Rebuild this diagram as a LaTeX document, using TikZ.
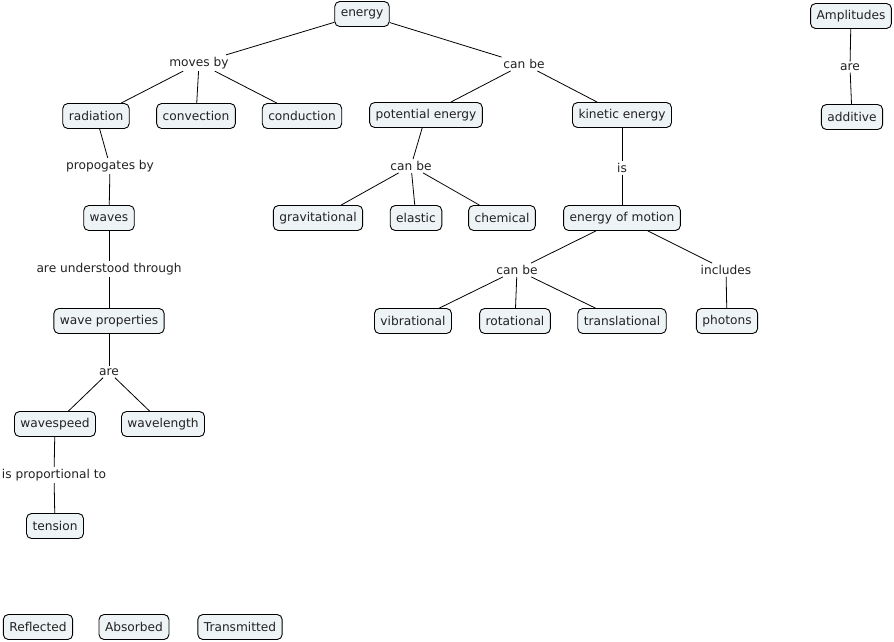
\documentclass[tikz,border=0pt]{standalone}
\usepackage{fontspec}
\setmainfont{DejaVu Sans}
\definecolor{boxfill}{HTML}{EEF3F5}
\definecolor{txt}{HTML}{222222}
\begin{document}
\begin{tikzpicture}[x=1pt,y=-1pt,
  concept/.style={draw=black,fill=boxfill,rounded corners=5pt,line width=0.9pt,
    font=\fontsize{12.2}{14}\selectfont,text=txt,inner xsep=6pt,minimum height=25pt,inner ysep=0pt},
  lab/.style={font=\fontsize{12.2}{14}\selectfont,text=txt,inner sep=2pt,fill=white},
  link/.style={draw=black,line width=0.8pt}]
\useasboundingbox[fill=white] (0,0) rectangle (894,641);
% concepts
\node[concept] (energy) at (362,14) {energy};
\node[concept] (ampl) at (851,16) {Amplitudes};
\node[concept] (additive) at (852,117) {additive};
\node[concept] (radiation) at (96,116) {radiation};
\node[concept] (convection) at (196,116) {convection};
\node[concept] (conduction) at (302,116) {conduction};
\node[concept] (potential) at (426,115) {potential energy};
\node[concept] (kinetic) at (622,115) {kinetic energy};
\node[concept] (waves) at (109,218) {waves};
\node[concept] (grav) at (318,218) {gravitational};
\node[concept] (elastic) at (416,218) {elastic};
\node[concept] (chemical) at (502,218) {chemical};
\node[concept] (motion) at (622,218) {energy of motion};
\node[concept] (waveprop) at (109,321) {wave properties};
\node[concept] (vib) at (413,321) {vibrational};
\node[concept] (rot) at (515,321) {rotational};
\node[concept] (trans) at (622,321) {translational};
\node[concept] (photons) at (727,321) {photons};
\node[concept] (wavespeed) at (55,424) {wavespeed};
\node[concept] (wavelength) at (163,424) {wavelength};
\node[concept] (tension) at (55,526) {tension};
\node[concept] (refl) at (38,627) {Reflected};
\node[concept] (abs) at (134,627) {Absorbed};
\node[concept] (transm) at (240,627) {Transmitted};
% linking phrases
\node[lab] (movesby) at (199,63) {moves by};
\node[lab] (canbeA) at (524,64) {can be};
\node[lab] (areA) at (850,67) {are};
\node[lab] (propby) at (110,166) {propogates by};
\node[lab] (canbeB) at (411,166) {can be};
\node[lab] (is) at (622,168) {is};
\node[lab] (understood) at (109,269) {are understood through};
\node[lab] (canbeC) at (517,270) {can be};
\node[lab] (includes) at (726,270) {includes};
\node[lab] (areB) at (109,372) {are};
\node[lab] (propto) at (54,475) {is proportional to};
% connectors
\draw[link] (energy) -- (movesby);
\draw[link] (energy) -- (canbeA);
\draw[link] (movesby) -- (radiation);
\draw[link] (movesby) -- (convection);
\draw[link] (movesby) -- (conduction);
\draw[link] (canbeA) -- (potential);
\draw[link] (canbeA) -- (kinetic);
\draw[link] (ampl) -- (areA);
\draw[link] (areA) -- (additive);
\draw[link] (radiation) -- (propby);
\draw[link] (propby) -- (waves);
\draw[link] (potential) -- (canbeB);
\draw[link] (canbeB) -- (grav);
\draw[link] (canbeB) -- (elastic);
\draw[link] (canbeB) -- (chemical);
\draw[link] (kinetic) -- (is);
\draw[link] (is) -- (motion);
\draw[link] (waves) -- (understood);
\draw[link] (understood) -- (waveprop);
\draw[link] (motion) -- (canbeC);
\draw[link] (canbeC) -- (vib);
\draw[link] (canbeC) -- (rot);
\draw[link] (canbeC) -- (trans);
\draw[link] (motion) -- (includes);
\draw[link] (includes) -- (photons);
\draw[link] (waveprop) -- (areB);
\draw[link] (areB) -- (wavespeed);
\draw[link] (areB) -- (wavelength);
\draw[link] (wavespeed) -- (propto);
\draw[link] (propto) -- (tension);
\end{tikzpicture}
\end{document}
